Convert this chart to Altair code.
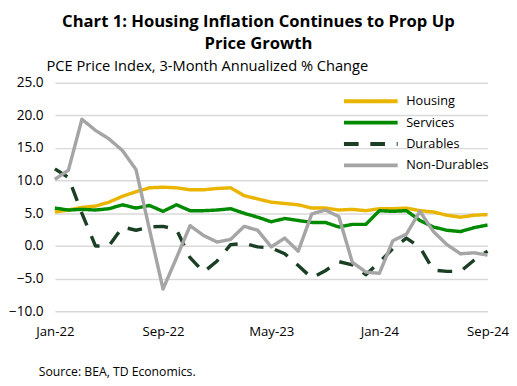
import altair as alt
import pandas as pd

months = ["Jan-22", "Feb-22", "Mar-22", "Apr-22", "May-22", "Jun-22", "Jul-22", "Aug-22",
          "Sep-22", "Oct-22", "Nov-22", "Dec-22", "Jan-23", "Feb-23", "Mar-23", "Apr-23",
          "May-23", "Jun-23", "Jul-23", "Aug-23", "Sep-23", "Oct-23", "Nov-23", "Dec-23",
          "Jan-24", "Feb-24", "Mar-24", "Apr-24", "May-24", "Jun-24", "Jul-24", "Aug-24",
          "Sep-24"]

housing = [5.2, 5.5, 5.9, 6.1, 6.7, 7.6, 8.3, 8.9, 9.0, 8.9, 8.6, 8.6, 8.8, 8.9, 7.7, 7.2,
           6.7, 6.5, 6.3, 5.8, 5.8, 5.5, 5.6, 5.4, 5.7, 5.7, 5.8, 5.4, 5.2, 4.7, 4.4, 4.7, 4.8]
services = [5.8, 5.5, 5.6, 5.5, 5.7, 6.3, 5.8, 6.2, 5.3, 6.3, 5.4, 5.4, 5.5, 5.7, 5.0, 4.4,
            3.7, 4.2, 3.9, 3.6, 3.6, 2.9, 3.3, 3.3, 5.4, 5.3, 5.4, 3.9, 2.9, 2.4, 2.2, 2.8, 3.2]
durables = [11.8, 10.5, 5.0, 0.0, 0.0, 2.9, 2.4, 2.9, 3.0, 2.5, -1.8, -4.0, -2.3, 0.2, 0.4, -0.15,
            -0.3, -1.2, -3.0, -4.9, -3.8, -2.4, -2.9, -4.4, -2.5, -0.4, 1.2, -0.2, -3.7, -3.9,
            -3.9, -2.2, -0.8]
non_durables = [10.2, 11.6, 19.4, 17.7, 16.4, 14.6, 11.7, 2.5, -6.6, -1.8, 3.1, 1.6, 0.6, 1.0,
                3.0, 2.4, -0.15, 1.2, -0.8, 4.9, 5.5, 4.5, -2.5, -4.0, -4.2, 0.8, 1.8, 5.3, 2.2,
                0.2, -1.2, -1.05, -1.4]

series_names = ["Housing", "Services", "Durables", "Non-Durables"]
series_colors = ["#EAB500", "#008A00", "#1B3F24", "#A5A5A5"]
series_dashes = [[1, 0], [1, 0], [15, 12], [1, 0]]
x_ticks = ["Jan-22", "Sep-22", "May-23", "Jan-24", "Sep-24"]
y_ticks = [-10, -5, 0, 5, 10, 15, 20, 25]

rows = []
for name, vals in zip(series_names, [housing, services, durables, non_durables]):
    for m, v in zip(months, vals):
        rows.append({"month": m, "series": name, "value": v})
df = pd.DataFrame(rows)

FONT = "Open Sans"

legend = alt.Legend(
    orient="none", legendX=296, legendY=11.5, title=None,
    symbolType="M-5,0H5", symbolSize=121, symbolStrokeWidth=4,
    symbolOffset=20, labelOffset=28.7, labelFontSize=13, labelFont=FONT,
    labelColor="#000000", rowPadding=4.9, padding=0,
)

chart = alt.Chart(df).mark_line(strokeWidth=3.5, strokeJoin="round").encode(
    x=alt.X("month:O", sort=months,
            scale=alt.Scale(type="point", padding=0),
            axis=alt.Axis(values=x_ticks, labelAngle=0, ticks=False, domain=False, grid=False,
                          labelPadding=14, labelFontSize=13.5, labelFont=FONT, labelColor="#000000",
                          title="Source: BEA, TD Economics.", titleX=-17, titleY=66,
                          titleAnchor="start", titleAlign="left", titleBaseline="alphabetic",
                          titleFontSize=12.5, titleFontWeight="normal", titleFont=FONT,
                          titleColor="#000000")),
    y=alt.Y("value:Q",
            scale=alt.Scale(domain=[-10, 25], nice=False, zero=False),
            axis=alt.Axis(values=y_ticks, format=".1f", ticks=False, domain=False,
                          gridColor="#D9D9D9", gridWidth=1.5, labelPadding=12,
                          labelFontSize=14, labelFont=FONT, labelColor="#000000",
                          title="PCE Price Index, 3-Month Annualized % Change",
                          titleAngle=0, titleX=-9, titleY=-12, titleAlign="left",
                          titleAnchor="start", titleBaseline="alphabetic",
                          titleFontSize=15, titleFontWeight="normal", titleFont=FONT,
                          titleColor="#000000")),
    color=alt.Color("series:N", sort=series_names,
                    scale=alt.Scale(domain=series_names, range=series_colors), legend=legend),
    strokeDash=alt.StrokeDash("series:N", sort=series_names,
                              scale=alt.Scale(domain=series_names, range=series_dashes),
                              legend=legend),
).properties(
    width=443, height=234,
    padding={"left": 0, "top": 1, "right": 0, "bottom": 0},
    title=alt.TitleParams(
        ["Chart 1: Housing Inflation Continues to Prop Up", "Price Growth"],
        anchor="middle", frame="bounds", fontSize=17, fontWeight="bold",
        lineHeight=22, offset=7, font=FONT, color="#000000"),
).configure_view(stroke=None)

chart.save("out.html", embed_options={"renderer": "svg", "actions": False})
